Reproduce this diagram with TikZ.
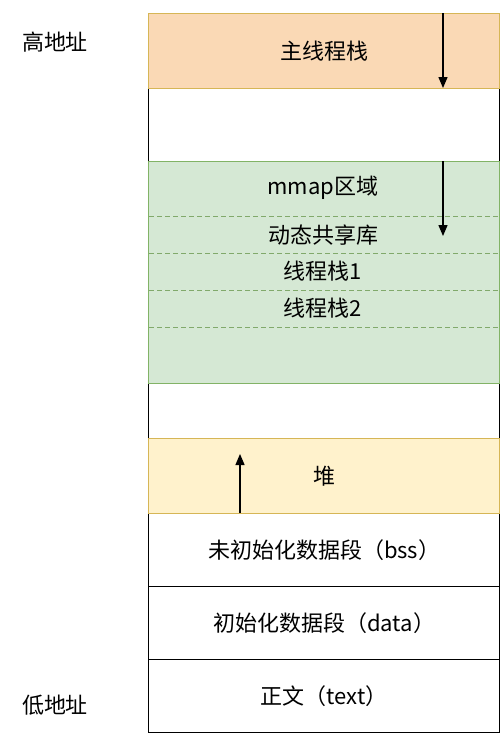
\documentclass[tikz,border=0pt]{standalone}
\usepackage{fontspec}
\setmainfont{Liberation Sans}
\newfontfamily\cjk{Noto Sans CJK SC}
\usetikzlibrary{arrows.meta}
\definecolor{peachfill}{HTML}{FAD9B5}
\definecolor{goldline}{HTML}{D6B656}
\definecolor{greenfill}{HTML}{D5E8D4}
\definecolor{greenline}{HTML}{82B366}
\definecolor{yellowfill}{HTML}{FFF2CC}
\tikzset{
  seg/.style={draw=black, line width=1.3pt, minimum width=351pt, inner sep=0pt, anchor=north west, font=\cjk\fontsize{22}{24}\selectfont},
  lbl/.style={font=\cjk\fontsize{22}{24}\selectfont, inner sep=0pt},
  sub/.style={font=\cjk\fontsize{22}{24}\selectfont, inner sep=0pt},
  divider/.style={draw=greenline!80!gray, line width=0.7pt, dash pattern=on 5pt off 3pt},
  growarrow/.style={draw=black, line width=1.3pt, -{Triangle[length=11pt,width=9pt]}}
}
\begin{document}
\begin{tikzpicture}[x=1pt,y=-1pt]
\useasboundingbox (0,0) rectangle (500,734);
% segments
\node[seg, minimum height=73pt] (ws1) at (148,88) {};
\node[seg, minimum height=55pt] (ws2) at (148,383) {};
\node[seg, minimum height=73pt] (bss) at (148,513) {未初始化数据段（bss）};
\node[seg, minimum height=73pt] (data) at (148,586) {初始化数据段（data）};
\node[seg, minimum height=73pt] (text) at (148,659) {正文（text）};
\node[seg, draw=goldline, fill=peachfill, minimum height=75pt] (main) at (148,13) {主线程栈};
\node[seg, draw=goldline, fill=yellowfill, minimum height=75pt] (heap) at (148,438) {堆};
\node[seg, draw=greenline, fill=greenfill, minimum height=222pt] (mmap) at (148,161) {};
% dividers
\coordinate (d1l) at (149,216); \coordinate (d1r) at (498,216);
\coordinate (d2l) at (149,253); \coordinate (d2r) at (498,253);
\coordinate (d3l) at (149,290); \coordinate (d3r) at (498,290);
\coordinate (d4l) at (149,327); \coordinate (d4r) at (498,327);
\draw[divider] (d1l) -- (d1r);
\draw[divider] (d2l) -- (d2r);
\draw[divider] (d3l) -- (d3r);
\draw[divider] (d4l) -- (d4r);
% sub labels
\node[sub] (mm) at (323,188) {mmap区域};
\node[sub] (dyn) at (323,235) {动态共享库};
\node[sub] (t1) at (323,271) {线程栈1};
\node[sub] (t2) at (323,308) {线程栈2};
% arrows
\coordinate (a1s) at (443,13); \coordinate (a1e) at (443,88);
\coordinate (a2s) at (443,161); \coordinate (a2e) at (443,236);
\coordinate (a3s) at (240,513); \coordinate (a3e) at (240,454);
\draw[growarrow] (a1s) -- (a1e);
\draw[growarrow] (a2s) -- (a2e);
\draw[growarrow] (a3s) -- (a3e);
% side labels
\node[lbl] (high) at (55,42) {高地址};
\node[lbl] (low) at (55,705) {低地址};
\end{tikzpicture}
\end{document}
